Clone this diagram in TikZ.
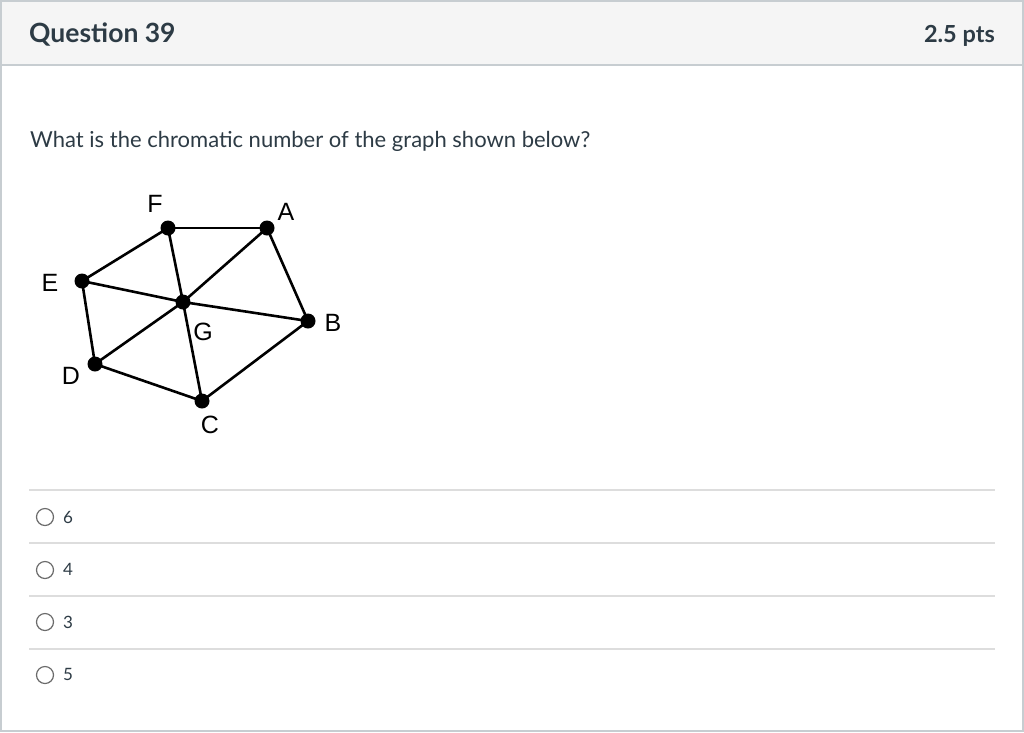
\documentclass[tikz,border=0pt]{standalone}
\usepackage{fontspec}
\setmainfont{Lato}
\newfontfamily\arialf{Liberation Sans}
\definecolor{txt}{HTML}{2D3B45}
\definecolor{hdr}{HTML}{F5F5F5}
\definecolor{brd}{HTML}{C7CDD1}
\definecolor{sep}{HTML}{DDDDDD}
\definecolor{radio}{HTML}{6B6B6B}
\begin{document}
\begin{tikzpicture}[x=1pt,y=-1pt,
  vtx/.style={circle,fill=black,inner sep=0pt,minimum size=15pt},
  edge/.style={line width=2.6pt,black},
  vlab/.style={font=\arialf\fontsize{25}{27}\selectfont,inner sep=0pt},
  ans/.style={font=\fontsize{17}{20}\selectfont,text=txt,anchor=west,inner sep=0pt},
  radiobtn/.style={draw=radio,line width=1.2pt,circle,minimum size=17pt,inner sep=0pt},
  seprule/.style={draw=sep,line width=1.2pt}]
\useasboundingbox (0,0) rectangle (1024,732);
% frame and header
\fill[white] (0,0) rectangle (1024,732);
\fill[hdr] (1,1) rectangle (1023,65);
\draw[brd,line width=1.5pt] (1,1) rectangle (1023,731);
\draw[brd,line width=1.5pt] (1,65) -- (1023,65);
\node[anchor=west,inner sep=0pt,text=txt,font=\bfseries\fontsize{26.5}{30}\selectfont] (title) at (29,35) {Question 39};
\node[anchor=east,inner sep=0pt,text=txt,font=\bfseries\fontsize{23.5}{27}\selectfont] (pts) at (995,36) {2.5 pts};
\node[anchor=west,inner sep=0pt,text=txt,font=\fontsize{22}{26}\selectfont] (q) at (30,141) {What is the chromatic number of the graph shown below?};
% graph
\node[vtx] (F) at (168,228) {};
\node[vtx] (A) at (267,228) {};
\node[vtx] (E) at (82,281) {};
\node[vtx] (G) at (183,302) {};
\node[vtx] (B) at (308,321) {};
\node[vtx] (D) at (95,364) {};
\node[vtx] (C) at (202,401) {};
\draw[edge] (F.center) -- (A.center);
\draw[edge] (F.center) -- (E.center);
\draw[edge] (F.center) -- (G.center);
\draw[edge] (A.center) -- (G.center);
\draw[edge] (A.center) -- (B.center);
\draw[edge] (E.center) -- (G.center);
\draw[edge] (E.center) -- (D.center);
\draw[edge] (G.center) -- (B.center);
\draw[edge] (G.center) -- (D.center);
\draw[edge] (G.center) -- (C.center);
\draw[edge] (D.center) -- (C.center);
\draw[edge] (C.center) -- (B.center);
\node[vlab] (lF) at (155,204) {F};
\node[vlab] (lA) at (286,212) {A};
\node[vlab] (lE) at (50,283) {E};
\node[vlab] (lG) at (203,332) {G};
\node[vlab] (lB) at (333,323) {B};
\node[vlab] (lD) at (71,376) {D};
\node[vlab] (lC) at (210,425) {C};
% answers
\draw[seprule] (29,490) -- (995,490);
\draw[seprule] (29,543) -- (995,543);
\draw[seprule] (29,596) -- (995,596);
\draw[seprule] (29,649) -- (995,649);
\node[radiobtn] (r1) at (45,517) {};
\node[radiobtn] (r2) at (45,570) {};
\node[radiobtn] (r3) at (45,622) {};
\node[radiobtn] (r4) at (45,675) {};
\node[ans] (a1) at (63,517) {6};
\node[ans] (a2) at (63,569) {4};
\node[ans] (a3) at (63,622) {3};
\node[ans] (a4) at (63,674) {5};
\end{tikzpicture}
\end{document}
